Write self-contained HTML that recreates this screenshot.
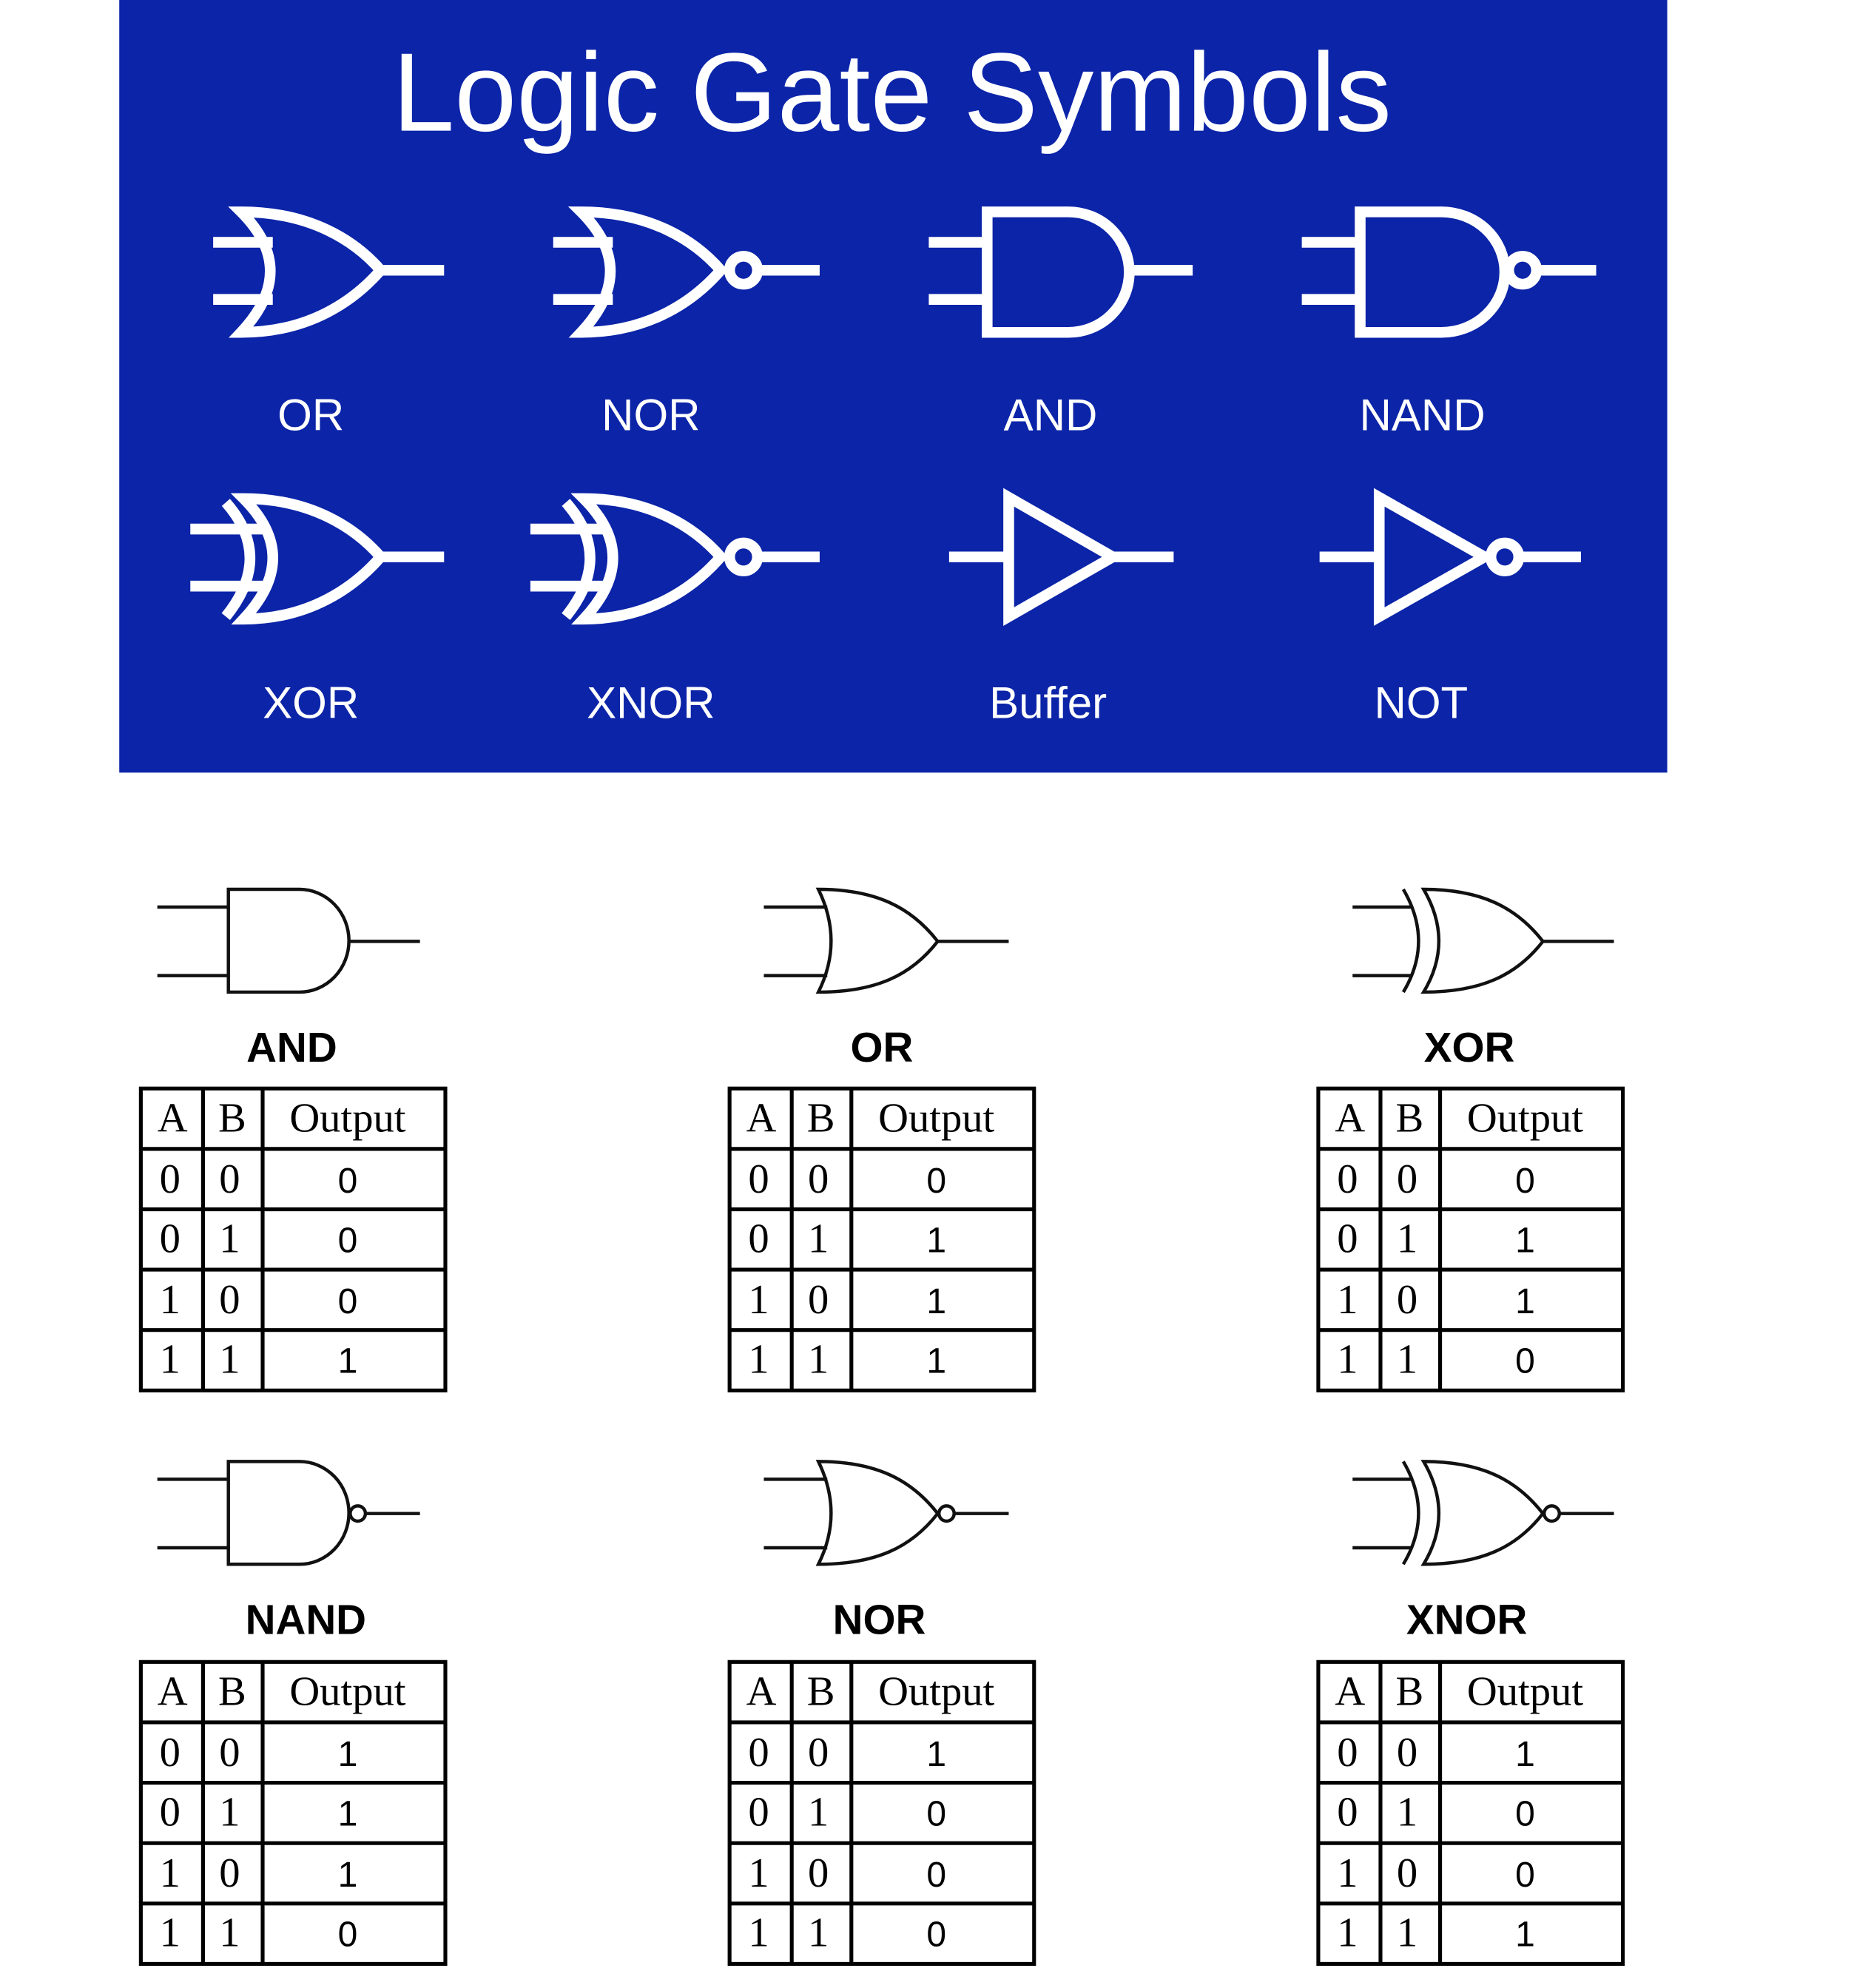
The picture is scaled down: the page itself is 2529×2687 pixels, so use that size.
<!DOCTYPE html>
<html><head><meta charset="utf-8"><style>
html,body{margin:0;padding:0;background:#fff;}
svg{display:block;}
</style></head><body>
<svg width="2529" height="2687" viewBox="0 0 1474.6 1567" preserveAspectRatio="none" xmlns="http://www.w3.org/2000/svg">
<rect x="0" y="0" width="1480" height="1570" fill="#fff"/>
<rect x="94" y="0" width="1220" height="609" fill="#0b24a8"/>
<text x="703" y="103" text-anchor="middle" font-family="Liberation Sans, sans-serif" font-size="88" fill="#fff">Logic Gate Symbols</text>

<g fill="none" stroke="#fff" stroke-width="8.5" stroke-linejoin="miter">
<g>
<path d="M168,191H215M168,236H215M300,213H350"/>
<path d="M190,167C245,167 280,190 300,213C280,236 245,262 190,262Q236,213 190,167Z"/>
</g>
<g transform="translate(268,0)">
<path d="M168,191H215M168,236H215M329,213H378"/>
<path d="M190,167C245,167 280,190 300,213C280,236 245,262 190,262Q236,213 190,167Z"/>
<circle cx="318" cy="213" r="11"/>
</g>
<path d="M732,191H778M732,236H778M892,213H940"/>
<path d="M778,167H842A48,47.5 0 0 1 842,262H778Z"/>
<path d="M1026,191H1072M1026,236H1072M1211,213H1258"/>
<path d="M1072,167H1136A50,47.5 0 0 1 1136,262H1072Z"/>
<circle cx="1200" cy="213" r="11"/>
<g transform="translate(0,226)">
<path d="M150,191H208M150,236H208M300,213H350"/>
<path d="M178,170Q216,213 178,260"/>
<path d="M192,167C245,167 280,190 300,213C280,236 245,262 192,262Q238,213 192,167Z"/>
</g>
<g transform="translate(268,226)">
<path d="M150,191H208M150,236H208M329,213H378"/>
<path d="M178,170Q216,213 178,260"/>
<path d="M192,167C245,167 280,190 300,213C280,236 245,262 192,262Q238,213 192,167Z"/>
<circle cx="318" cy="213" r="11"/>
</g>
<path d="M748,439H795M877,439H925"/>
<path d="M795,392L877,439L795,486Z"/>
<path d="M1040,439H1087M1197,439H1246"/>
<path d="M1087,392L1170,439L1087,486Z"/>
<circle cx="1186" cy="439" r="11"/>
</g>

<g fill="#fff" font-family="Liberation Sans, sans-serif" font-size="35" text-anchor="middle">
<text x="245" y="339">OR</text>
<text x="513" y="339">NOR</text>
<text x="828" y="339">AND</text>
<text x="1121" y="339">NAND</text>
<text x="245" y="566">XOR</text>
<text x="513" y="566">XNOR</text>
<text x="826" y="566">Buffer</text>
<text x="1120" y="566">NOT</text>
</g>

<g fill="none" stroke="#111" stroke-width="2.6">
<path d="M124,715H180M124,769H180M275,742H331"/>
<path d="M180,701H236A39,40.5 0 0 1 236,782H180Z"/>
<path d="M602,715H652M602,769H652M739,742H795"/>
<path d="M645,701C690,701 718,715 739,742C718,769 690,782 645,782Q665,742 645,701Z"/>
<path d="M1066,715H1113M1066,769H1113M1216,742H1272"/>
<path d="M1106,701Q1130,742 1106,782"/>
<path d="M1122,701C1167,701 1195,715 1216,742C1195,769 1167,782 1122,782Q1146,742 1122,701Z"/>
<g transform="translate(0,451)">
<path d="M124,715H180M124,769H180M288,742H331"/>
<path d="M180,701H236A39,40.5 0 0 1 236,782H180Z"/>
<circle cx="282" cy="742" r="6"/>
</g>
<g transform="translate(0,451)">
<path d="M602,715H652M602,769H652M752,742H795"/>
<path d="M645,701C690,701 718,715 739,742C718,769 690,782 645,782Q665,742 645,701Z"/>
<circle cx="746" cy="742" r="6"/>
</g>
<g transform="translate(0,451)">
<path d="M1066,715H1113M1066,769H1113M1229,742H1272"/>
<path d="M1106,701Q1130,742 1106,782"/>
<path d="M1122,701C1167,701 1195,715 1216,742C1195,769 1167,782 1122,782Q1146,742 1122,701Z"/>
<circle cx="1223" cy="742" r="6"/>
</g>
</g>

<g fill="#000" font-family="Liberation Sans, sans-serif" font-weight="bold" font-size="33" text-anchor="middle">
<text x="230" y="837">AND</text>
<text x="695" y="837">OR</text>
<text x="1158" y="837">XOR</text>
<text x="241" y="1288">NAND</text>
<text x="693" y="1288">NOR</text>
<text x="1156" y="1288">XNOR</text>
</g>

<defs>
<g id="tbl" fill="none" stroke="#000" stroke-width="3">
<rect x="0" y="0" width="240" height="238"/>
<path d="M49,0V238M96,0V238M0,47.6H240M0,95.2H240M0,142.8H240M0,190.4H240"/>
</g>
</defs>

<g font-size="33">
<g transform="translate(111,858)">
<use href="#tbl"/>
<g font-family="Liberation Serif, serif" text-anchor="middle" fill="#000">
<text x="25" y="34">A</text><text x="72" y="34">B</text><text x="163" y="34">Output</text>
<text x="23" y="82">0</text><text x="70" y="82">0</text>
<text x="23" y="129">0</text><text x="70" y="129">1</text>
<text x="23" y="177">1</text><text x="70" y="177">0</text>
<text x="23" y="224">1</text><text x="70" y="224">1</text>
</g>
<g font-family="Liberation Sans, sans-serif" font-size="28" text-anchor="middle" fill="#000">
<text x="163" y="82">0</text><text x="163" y="129">0</text><text x="163" y="177">0</text><text x="163" y="224">1</text>
</g>
</g>
<g transform="translate(575,858)">
<use href="#tbl"/>
<g font-family="Liberation Serif, serif" text-anchor="middle" fill="#000">
<text x="25" y="34">A</text><text x="72" y="34">B</text><text x="163" y="34">Output</text>
<text x="23" y="82">0</text><text x="70" y="82">0</text>
<text x="23" y="129">0</text><text x="70" y="129">1</text>
<text x="23" y="177">1</text><text x="70" y="177">0</text>
<text x="23" y="224">1</text><text x="70" y="224">1</text>
</g>
<g font-family="Liberation Sans, sans-serif" font-size="28" text-anchor="middle" fill="#000">
<text x="163" y="82">0</text><text x="163" y="129">1</text><text x="163" y="177">1</text><text x="163" y="224">1</text>
</g>
</g>
<g transform="translate(1039,858)">
<use href="#tbl"/>
<g font-family="Liberation Serif, serif" text-anchor="middle" fill="#000">
<text x="25" y="34">A</text><text x="72" y="34">B</text><text x="163" y="34">Output</text>
<text x="23" y="82">0</text><text x="70" y="82">0</text>
<text x="23" y="129">0</text><text x="70" y="129">1</text>
<text x="23" y="177">1</text><text x="70" y="177">0</text>
<text x="23" y="224">1</text><text x="70" y="224">1</text>
</g>
<g font-family="Liberation Sans, sans-serif" font-size="28" text-anchor="middle" fill="#000">
<text x="163" y="82">0</text><text x="163" y="129">1</text><text x="163" y="177">1</text><text x="163" y="224">0</text>
</g>
</g>
<g transform="translate(111,1310)">
<use href="#tbl"/>
<g font-family="Liberation Serif, serif" text-anchor="middle" fill="#000">
<text x="25" y="34">A</text><text x="72" y="34">B</text><text x="163" y="34">Output</text>
<text x="23" y="82">0</text><text x="70" y="82">0</text>
<text x="23" y="129">0</text><text x="70" y="129">1</text>
<text x="23" y="177">1</text><text x="70" y="177">0</text>
<text x="23" y="224">1</text><text x="70" y="224">1</text>
</g>
<g font-family="Liberation Sans, sans-serif" font-size="28" text-anchor="middle" fill="#000">
<text x="163" y="82">1</text><text x="163" y="129">1</text><text x="163" y="177">1</text><text x="163" y="224">0</text>
</g>
</g>
<g transform="translate(575,1310)">
<use href="#tbl"/>
<g font-family="Liberation Serif, serif" text-anchor="middle" fill="#000">
<text x="25" y="34">A</text><text x="72" y="34">B</text><text x="163" y="34">Output</text>
<text x="23" y="82">0</text><text x="70" y="82">0</text>
<text x="23" y="129">0</text><text x="70" y="129">1</text>
<text x="23" y="177">1</text><text x="70" y="177">0</text>
<text x="23" y="224">1</text><text x="70" y="224">1</text>
</g>
<g font-family="Liberation Sans, sans-serif" font-size="28" text-anchor="middle" fill="#000">
<text x="163" y="82">1</text><text x="163" y="129">0</text><text x="163" y="177">0</text><text x="163" y="224">0</text>
</g>
</g>
<g transform="translate(1039,1310)">
<use href="#tbl"/>
<g font-family="Liberation Serif, serif" text-anchor="middle" fill="#000">
<text x="25" y="34">A</text><text x="72" y="34">B</text><text x="163" y="34">Output</text>
<text x="23" y="82">0</text><text x="70" y="82">0</text>
<text x="23" y="129">0</text><text x="70" y="129">1</text>
<text x="23" y="177">1</text><text x="70" y="177">0</text>
<text x="23" y="224">1</text><text x="70" y="224">1</text>
</g>
<g font-family="Liberation Sans, sans-serif" font-size="28" text-anchor="middle" fill="#000">
<text x="163" y="82">1</text><text x="163" y="129">0</text><text x="163" y="177">0</text><text x="163" y="224">1</text>
</g>
</g>
</g>
</svg>
</body></html>
